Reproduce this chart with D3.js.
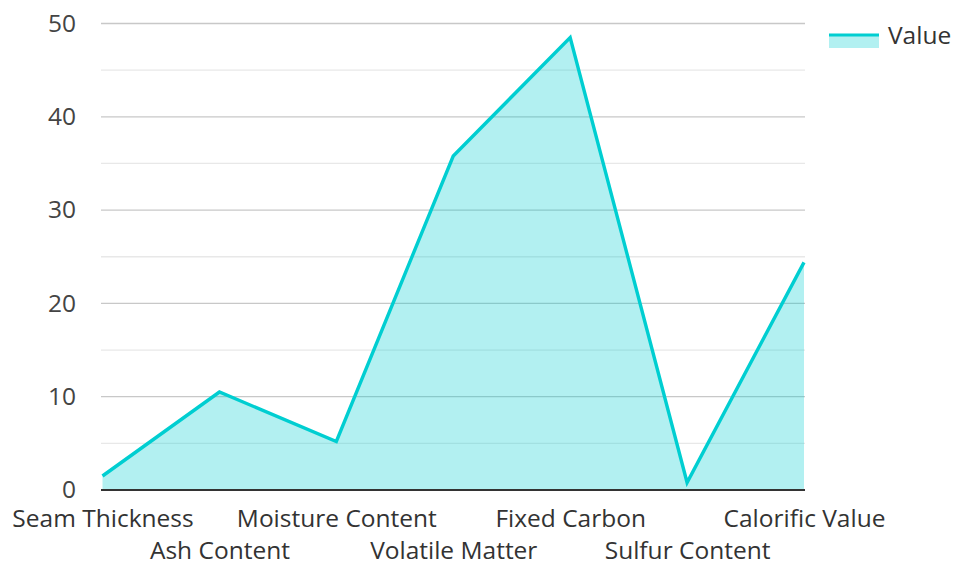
<!DOCTYPE html>
<html><head><meta charset="utf-8">
<script src="https://cdn.jsdelivr.net/npm/d3@7"></script>
<style>html,body{margin:0;padding:0;background:#fff;}svg{display:block;font-family:"Open Sans",sans-serif;}</style>
</head><body>
<svg id="chart" width="954" height="562"></svg>
<script>
const categories = ["Seam Thickness","Ash Content","Moisture Content","Volatile Matter","Fixed Carbon","Sulfur Content","Calorific Value"];
const values = [1.5, 10.5, 5.2, 35.8, 48.5, 0.8, 24.4];
const majorTicks = [0,10,20,30,40,50];
const minorTicks = [5,15,25,35,45];
const seriesName = "Value";

(function(){
const svg = d3.select("#chart");
const pLeft = 101, pRight = 805, pTop = 23.5, pBottom = 490;
const fs = 24.5;
const x = d3.scalePoint().domain(categories).range([102.5, 804]);
const y = d3.scaleLinear().domain([0,50]).range([pBottom, pTop]);

svg.append("g").selectAll("line").data(minorTicks).join("line")
  .attr("x1", pLeft).attr("x2", pRight)
  .attr("y1", d=>y(d)).attr("y2", d=>y(d))
  .attr("stroke", "#e8e8e8").attr("stroke-width", 1.3);
svg.append("g").selectAll("line").data(majorTicks.filter(d=>d>0)).join("line")
  .attr("x1", pLeft).attr("x2", pRight)
  .attr("y1", d=>y(d)).attr("y2", d=>y(d))
  .attr("stroke", "#c8c8c8").attr("stroke-width", 1.3);

const data = categories.map((c,i)=>({c, v: values[i]}));
svg.append("path").datum(data)
  .attr("d", d3.area().x(d=>x(d.c)).y0(y(0)).y1(d=>y(d.v)))
  .attr("fill", "rgba(0,206,209,0.3)");
svg.append("path").datum(data)
  .attr("d", d3.line().x(d=>x(d.c)).y(d=>y(d.v)))
  .attr("fill", "none").attr("stroke", "#00CED1").attr("stroke-width", 3.4).attr("stroke-linejoin","miter");

svg.append("line").attr("x1", pLeft).attr("x2", pRight).attr("y1", y(0)).attr("y2", y(0))
  .attr("stroke", "#333").attr("stroke-width", 2);

const yAxis = d3.axisLeft(y).tickValues(majorTicks).tickSize(0).tickPadding(0);
const ga = svg.append("g").attr("transform", `translate(76,0)`).call(yAxis);
ga.select(".domain").remove();
ga.selectAll("text").attr("font-size", fs).attr("fill", "#444").attr("font-family", "Open Sans");

const xAxis = d3.axisBottom(x).tickSize(0).tickPadding(0);
const gx = svg.append("g").attr("transform", `translate(0,${pBottom})`).call(xAxis);
gx.select(".domain").remove();
gx.selectAll("text").attr("font-size", fs).attr("fill", "#333").attr("font-family", "Open Sans")
  .attr("dy", null)
  .attr("y", (d,i)=> i%2===0 ? 37 : 69);

const lg = svg.append("g");
lg.append("rect").attr("x", 829).attr("y", 35).attr("width", 50).attr("height", 13).attr("fill", "rgba(0,206,209,0.3)");
lg.append("line").attr("x1", 829).attr("x2", 879).attr("y1", 35).attr("y2", 35).attr("stroke", "#00CED1").attr("stroke-width", 3);
lg.append("text").attr("x", 888).attr("y", 35).attr("dy", "0.35em").attr("font-size", fs).attr("fill", "#333").attr("font-family", "Open Sans").text(seriesName);
})();
</script>
</body></html>
